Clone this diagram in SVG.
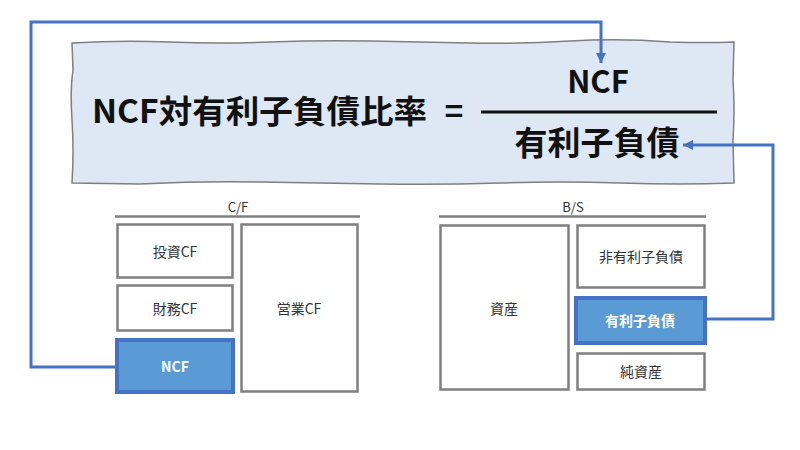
<svg xmlns="http://www.w3.org/2000/svg" width="800" height="450" viewBox="0 0 800 450">
<style>
text{font-family:"Noto Sans CJK JP","Noto Sans",sans-serif;}
.box{fill:#ffffff;stroke:#7f7f7f;stroke-width:2.5;}
.hl{fill:#5b9bd5;stroke:#4472c4;stroke-width:4;}
.lbl{font-size:14px;fill:#333333;text-anchor:middle;dominant-baseline:central;}
.hlt{font-size:14px;fill:#ffffff;font-weight:bold;text-anchor:middle;dominant-baseline:central;}
.big{font-weight:bold;fill:#111111;}
.conn{fill:none;stroke:#4472c4;stroke-width:3;}
.hdr{font-size:13px;fill:#333333;text-anchor:middle;}
.rule{stroke:#7f7f7f;stroke-width:2.5;}
</style>
<defs>
<marker id="arr" markerUnits="userSpaceOnUse" markerWidth="12" markerHeight="12" refX="10" refY="5" orient="auto">
<path d="M0,0 L10,5 L0,10 Z" fill="#4472c4"/>
</marker>
</defs>
<rect width="800" height="450" fill="#ffffff"/>
<g id="formula">
<path d="M72,43 Q120,40 170,42 T270,42 T370,41 T470,43 T570,41 T670,42 Q705,43 734,42 L733,80 Q735,110 733,140 L734,183 Q680,185 620,183 T500,183 T380,184 T260,182 T140,184 L72,183 Q74,150 72,120 T73,70 Z" fill="#dee8f5" stroke="#7f7f7f" stroke-width="1.5"/>
<text class="big" x="92" y="123" font-size="32" textLength="335" lengthAdjust="spacingAndGlyphs">NCF対有利子負債比率</text>
<text class="big" x="454" y="123" font-size="32" text-anchor="middle">=</text>
<line x1="481" y1="112" x2="717" y2="112" stroke="#111111" stroke-width="3"/>
<text class="big" x="598" y="93" font-size="31" text-anchor="middle">NCF</text>
<text class="big" x="597" y="155" font-size="33" text-anchor="middle">有利子負債</text>
</g>
<g id="cf">
<text class="hdr" x="238" y="212">C/F</text>
<line class="rule" x1="115" y1="216.5" x2="360" y2="216.5"/>
<g id="toushi"><rect class="box" x="117.5" y="224.5" width="115" height="53"/><text class="lbl" x="175" y="251">投資CF</text></g>
<g id="zaimu"><rect class="box" x="117.5" y="285.5" width="115" height="45"/><text class="lbl" x="175" y="308">財務CF</text></g>
<g id="ncf"><rect class="hl" x="117" y="340" width="116" height="52"/><text class="hlt" x="175" y="366">NCF</text></g>
<g id="eigyo"><rect class="box" x="241.5" y="224.5" width="116" height="167"/><text class="lbl" x="299" y="308">営業CF</text></g>
</g>
<g id="bs">
<text class="hdr" x="573" y="212">B/S</text>
<line class="rule" x1="439" y1="216.5" x2="706" y2="216.5"/>
<g id="shisan"><rect class="box" x="440.5" y="225.5" width="128" height="164"/><text class="lbl" x="504" y="308">資産</text></g>
<g id="hiyuurishi"><rect class="box" x="577.5" y="225.5" width="127" height="62"/><text class="lbl" x="641" y="256">非有利子負債</text></g>
<g id="yuurishi"><rect class="hl" x="576" y="298" width="129" height="45"/><text class="hlt" x="640" y="320">有利子負債</text></g>
<g id="junshisan"><rect class="box" x="577.5" y="353.5" width="127" height="36"/><text class="lbl" x="641" y="371">純資産</text></g>
</g>
<g id="connectors">
<path class="conn" d="M115,367 H31 V22 H601 V63" marker-end="url(#arr)"/>
<path class="conn" d="M707,319 H773 V145 H683" marker-end="url(#arr)"/>
</g>
</svg>
